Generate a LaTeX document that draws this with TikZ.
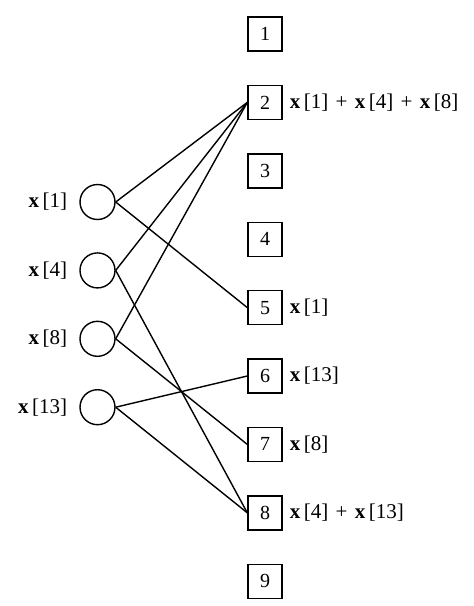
\documentclass[tikz,border=0pt]{standalone}
\usepackage{fontspec}
\setmainfont{Liberation Serif}
\usetikzlibrary{positioning}
\newcommand{\plus}{\hspace{0.35em}+\hspace{0.35em}}
\tikzset{
  slot/.style={rectangle, draw, line width=1.4pt, minimum size=34pt, inner sep=0pt, font=\fontsize{20}{24}\selectfont},
  var/.style={circle, draw, line width=1.4pt, minimum size=35pt, inner sep=0pt},
  lbl/.style={inner sep=0pt, font=\fontsize{21}{25}\selectfont},
  line/.style={line width=1.4pt}
}

\begin{document}
\begin{tikzpicture}[x=1pt, y=-1pt]
  \useasboundingbox (0,0) rectangle (474,606);
  % output slots
  \node[slot] (s1) at (265,34) {1};
  \node[slot, below=33pt of s1] (s2) {2};
  \node[slot, below=33pt of s2] (s3) {3};
  \node[slot, below=33pt of s3] (s4) {4};
  \node[slot, below=33pt of s4] (s5) {5};
  \node[slot, below=33pt of s5] (s6) {6};
  \node[slot, below=33pt of s6] (s7) {7};
  \node[slot, below=33pt of s7] (s8) {8};
  \node[slot, below=33pt of s8] (s9) {9};
  % inputs
  \node[var] (x1) at (97.5,202) {};
  \node[var, below=32pt of x1] (x4) {};
  \node[var, below=32pt of x4] (x8) {};
  \node[var, below=32pt of x8] (x13) {};
  \node[lbl, left=12pt of x1] (lx1) {\textbf{x}\,[1]};
  \node[lbl, left=12pt of x4] (lx4) {\textbf{x}\,[4]};
  \node[lbl, left=12pt of x8] (lx8) {\textbf{x}\,[8]};
  \node[lbl, left=12pt of x13] (lx13) {\textbf{x}\,[13]};
  % sums
  \node[lbl, right=7pt of s2] (sum2) {\textbf{x}\,[1]\plus\textbf{x}\,[4]\plus\textbf{x}\,[8]};
  \node[lbl, right=7pt of s5] (sum5) {\textbf{x}\,[1]};
  \node[lbl, right=7pt of s6] (sum6) {\textbf{x}\,[13]};
  \node[lbl, right=7pt of s7] (sum7) {\textbf{x}\,[8]};
  \node[lbl, right=7pt of s8] (sum8) {\textbf{x}\,[4]\plus\textbf{x}\,[13]};
  % connections
  \draw[line] (x1.east) -- (s2.west);
  \draw[line] (x1.east) -- (s5.west);
  \draw[line] (x4.east) -- (s2.west);
  \draw[line] (x4.east) -- (s8.west);
  \draw[line] (x8.east) -- (s2.west);
  \draw[line] (x8.east) -- (s7.west);
  \draw[line] (x13.east) -- (s6.west);
  \draw[line] (x13.east) -- (s8.west);
\end{tikzpicture}
\end{document}
